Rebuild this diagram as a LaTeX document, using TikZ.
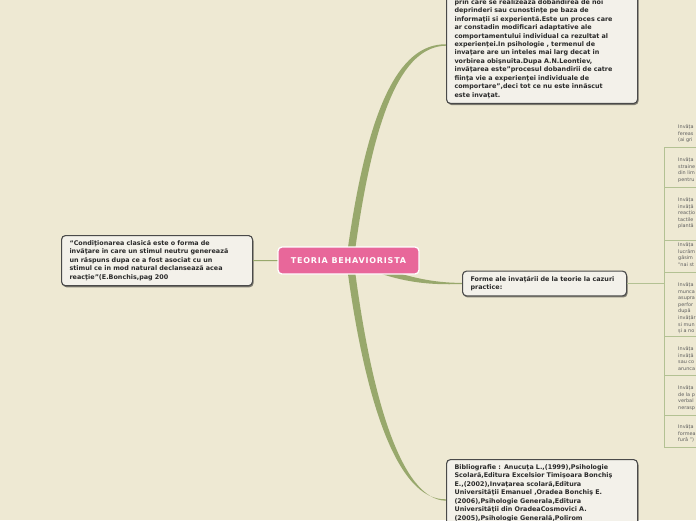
\documentclass[tikz,border=0pt]{standalone}
\usepackage{fontspec}
\setmainfont{DejaVu Sans}
\usetikzlibrary{calc,shadows}
\definecolor{bg}{HTML}{EEE9D3}
\definecolor{boxfill}{HTML}{F3F1EA}
\definecolor{boxborder}{HTML}{4A4A4A}
\definecolor{boxtext}{HTML}{2A2A2A}
\definecolor{branchcol}{HTML}{98A86C}
\definecolor{colline}{HTML}{B3C193}
\definecolor{pinkc}{HTML}{E8679A}
\definecolor{itemtext}{HTML}{5E5E5E}
\begin{document}
\begin{tikzpicture}[x=1pt,y=-1pt,
  topic/.style={draw=boxborder, line width=1.1pt, fill=boxfill, rounded corners=4pt,
    inner xsep=8pt, inner ysep=5pt, align=left, text=boxtext,
    font=\fontsize{6.4}{8.45}\selectfont\bfseries,
    drop shadow={shadow xshift=1pt, shadow yshift=-1.6pt, opacity=0.45, fill=black}},
  central/.style={draw=white, line width=1.3pt, fill=pinkc, rounded corners=4pt,
    minimum width=141pt, minimum height=27pt, text=white, inner sep=0pt,
    font=\fontsize{8}{9}\selectfont\bfseries},
  branch/.style={fill=branchcol},
  thinline/.style={draw=colline, line width=0.9pt},
  item/.style={anchor=north west, inner sep=0pt, align=left, text=itemtext,
    font=\fontsize{4.9}{6.6}\selectfont}
]
\useasboundingbox (0,0) rectangle (696,520);
\fill[bg] (0,0) rectangle (696,520);

\coordinate (cc) at (348.5,260.5);

% branch end points
\coordinate (tend) at (446,45);
\coordinate (bend) at (446,500);
\coordinate (fend) at (462,283.5);

% tapered branches (behind the nodes)
\fill[branch] ($(cc)+(-2.5,1.5)$) .. controls (366,110) and (398,43.5) .. ($(tend)+(0,-0.7)$)
  -- ($(tend)+(0,0.7)$) .. controls (402,46.5) and (373,112) .. ($(cc)+(5,1.5)$) -- cycle;
\fill[branch] ($(cc)+(-2.5,-1.5)$) .. controls (364,400) and (397,500.5) .. ($(bend)+(0,-0.7)$)
  -- ($(bend)+(0,0.7)$) .. controls (402,500) and (371,400) .. ($(cc)+(5,-1.5)$) -- cycle;
\fill[branch] (378,266) .. controls (415,280) and (440,282.8) .. ($(fend)+(0,-0.6)$)
  -- ($(fend)+(0,0.6)$) .. controls (440,284.5) and (412,285) .. (376,272) -- cycle;

\node[central] (c) at (cc) {\addfontfeature{LetterSpace=10}TEORIA BEHAVIORISTA};

\node[topic, anchor=south west, text width=175pt] (t) at (446,104) {%
prin care se realizează dobandirea de noi\\
deprinderi sau cunostinţe pe baza de\\
informaţii si experientă.Este un proces care\\
ar constadin modificari adaptative ale\\
comportamentului individual ca rezultat al\\
experienţei.In psihologie , termenul de\\
invaţare are un inteles mai larg decat in\\
vorbirea obişnuita.Dupa A.N.Leontiev,\\
invăţarea este”procesul dobandirii de catre\\
fiinţa vie a experienţei individuale de\\
comportare”,deci tot ce nu este innăscut\\
este invaţat.};

\node[topic, anchor=north west, text width=175pt] (l) at (61,235) {%
“Condiţionarea clasică este o forma de\\
invăţare in care un stimul neutru generează\\
un răspuns dupa ce a fost asociat cu un\\
stimul ce in mod natural declansează acea\\
reacţie”(E.Bonchis,pag 200};

\node[topic, anchor=west, text width=148pt] (f) at (fend) {%
Forme ale invaţării de la teorie la cazuri\\
practice:};

\node[topic, anchor=north west, text width=175pt] (b) at (446,459) {%
Bibliografie : Anucuţa L.,(1999),Psihologie\\
Scolară,Editura Excelsior Timişoara Bonchiş\\
E.,(2002),Invaţarea scolară,Editura\\
Universităţii Emanuel ,Oradea Bonchiş E.\\
(2006),Psihologie Generala,Editura\\
Universităţii din OradeaCosmovici A.\\
(2005),Psihologie Generală,Polirom};

% left connector
\draw[draw=branchcol, line width=1pt] (l.east) -- (c.west);

% right column
\coordinate (vtop) at (664,147);
\coordinate (vbot) at (664,447);
\draw[thinline] (f.east) -- (664,283.5);
\draw[thinline] (vtop) -- (vbot);
\foreach \yy in {147,187,240,272,336,375,415,447}
  \draw[thinline] (664,\yy) -- (696,\yy);

\node[item] (i1) at (678,124.5) {Invăța\\fereas\\(ai gri};
\node[item] (i2) at (678,157.5) {Invăța\\straine\\din lim\\pentru};
\node[item] (i3) at (678,197.5) {Invăța\\invăță\\reacțio\\tactile\\plantă};
\node[item] (i4) at (678,242.5) {Invăța\\lucrăm\\găsim\\“nai st};
\node[item] (i5) at (678,282.5) {Invăța\\munca\\asupra\\perfor\\după\\invățăr\\si mun\\și a no};
\node[item] (i6) at (678,346.5) {Invăța\\invăță\\sau co\\arunca};
\node[item] (i7) at (678,385.5) {Invăța\\de la p\\verbal\\nerasp};
\node[item] (i8) at (678,424.5) {Invăța\\formea\\furâ ")};
\end{tikzpicture}
\end{document}
